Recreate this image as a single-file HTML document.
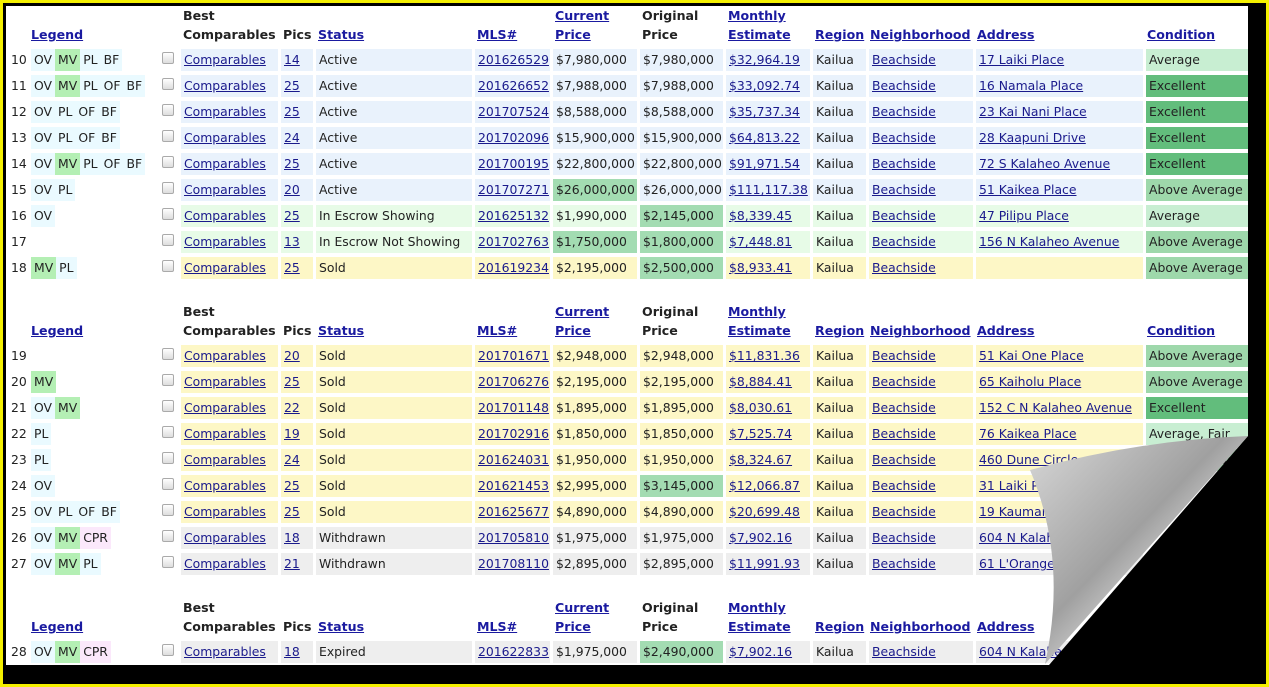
<!DOCTYPE html>
<html><head><meta charset="utf-8">
<style>
*{margin:0;padding:0;box-sizing:border-box}
body{width:1269px;height:687px;background:#f4f000;position:relative;overflow:hidden;font-family:"DejaVu Sans","Liberation Sans",sans-serif;font-size:12.4px;color:#222}
#frame{position:absolute;left:3px;top:3px;width:1263px;height:681px;background:#000}
#page{position:absolute;left:6px;top:6px;width:1242px;height:659px;background:#fff;overflow:hidden}
.c{position:absolute;height:22px;line-height:22px;padding-left:3px;white-space:nowrap;overflow:hidden}
.h{position:absolute;font-weight:bold;line-height:19px;white-space:nowrap;font-size:12.6px}
a,.lk{color:#1a1a8c;text-decoration:underline}
.hl{color:#1a1aa0}
.tok{display:inline-block;padding:0 3px;background:#eafaff}
.mv{background:#b4efb4}.cpr{background:#fbe8fb}
.cb{position:absolute;width:12px;height:12px;border:1px solid #aaa;border-radius:2px;background:linear-gradient(#fff,#ddd)}
</style></head><body>
<div id="frame"></div>
<div id="page"></div>
<svg width="1269" height="687" style="position:absolute;left:0;top:0">
<defs><linearGradient id="g" x1="0" y1="0" x2="1" y2="1"><stop offset="0" stop-color="#d8d8d8"/><stop offset="0.45" stop-color="#a0a0a0"/><stop offset="0.7" stop-color="#e8e8e8"/><stop offset="1" stop-color="#9a9a9a"/></linearGradient></defs>
<path d="M1248,436 L1248,680 L1036,680 Z" fill="#000"/>
<path d="M1030,470 Q1140,440 1248,436 L1045,664 Q1068,560 1030,470 Z" fill="url(#g)"/>
</svg>
<script>
const legends=[["OV","MV","PL","BF"],["OV","MV","PL","OF","BF"],["OV","PL","OF","BF"],["OV","PL","OF","BF"],["OV","MV","PL","OF","BF"],["OV","PL"],["OV"],[],["MV","PL"],
[],["MV"],["OV","MV"],["PL"],["PL"],["OV"],["OV","PL","OF","BF"],["OV","MV","CPR"],["OV","MV","PL"],["OV","MV","CPR"]];
const nums=[10,11,12,13,14,15,16,17,18,19,20,21,22,23,24,25,26,27,28];
const pics=[14,25,25,24,25,20,25,13,25,20,25,22,19,24,25,25,18,21,18];
const statuses=["Active","Active","Active","Active","Active","Active","In Escrow Showing","In Escrow Not Showing","Sold","Sold","Sold","Sold","Sold","Sold","Sold","Sold","Withdrawn","Withdrawn","Expired"];
const mls=["201626529","201626652","201707524","201702096","201700195","201707271","201625132","201702763","201619234","201701671","201706276","201701148","201702916","201624031","201621453","201625677","201705810","201708110","201622833"];
const current=["$7,980,000","$7,988,000","$8,588,000","$15,900,000","$22,800,000","$26,000,000","$1,990,000","$1,750,000","$2,195,000","$2,948,000","$2,195,000","$1,895,000","$1,850,000","$1,950,000","$2,995,000","$4,890,000","$1,975,000","$2,895,000","$1,975,000"];
const original=["$7,980,000","$7,988,000","$8,588,000","$15,900,000","$22,800,000","$26,000,000","$2,145,000","$1,800,000","$2,500,000","$2,948,000","$2,195,000","$1,895,000","$1,850,000","$1,950,000","$3,145,000","$4,890,000","$1,975,000","$2,895,000","$2,490,000"];
const curHl=[0,0,0,0,0,1,0,1,0,0,0,0,0,0,0,0,0,0,0];
const origHl=[0,0,0,0,0,0,1,1,1,0,0,0,0,0,1,0,0,0,1];
const monthly=["$32,964.19","$33,092.74","$35,737.34","$64,813.22","$91,971.54","$111,117.38","$8,339.45","$7,448.81","$8,933.41","$11,831.36","$8,884.41","$8,030.61","$7,525.74","$8,324.67","$12,066.87","$20,699.48","$7,902.16","$11,991.93","$7,902.16"];
const address=["17 Laiki Place","16 Namala Place","23 Kai Nani Place","28 Kaapuni Drive","72 S Kalaheo Avenue","51 Kaikea Place","47 Pilipu Place","156 N Kalaheo Avenue","","51 Kai One Place","65 Kaiholu Place","152 C N Kalaheo Avenue","76 Kaikea Place","460 Dune Circle","31 Laiki Place","19 Kaumana Place","604 N Kalaheo","61 L'Orange Place","604 N Kalaheo"];
const condition=["Average","Excellent","Excellent","Excellent","Excellent","Above Average","Average","Above Average","Above Average","Above Average","Above Average","Excellent","Average, Fair","Above Average","","","","",""];
const rowY=[48,74,100,126,152,178,204,230,256,344,370,396,422,448,474,500,526,552,640];
const headY=[6,302,598];
const P=document.getElementById('page');
function rowBg(s){if(s==="Active")return"#e9f2fc";if(s.indexOf("Escrow")>=0)return"#e7fbe7";if(s==="Sold")return"#fdf7c6";return"#eeeeee";}
function condBg(c){if(c==="Excellent")return"#62bd7c";if(c==="Above Average")return"#9ed8ab";if(c)return"#c8eed2";return"transparent";}
function cell(x,y,w,html,bg,name,inter){const d=document.createElement('div');d.className='c';d.style.left=(x-6)+'px';d.style.top=(y-6)+'px';d.style.width=w+'px';if(bg)d.style.background=bg;d.innerHTML=html;


P.appendChild(d);return d;}
function head(x,y,t,link,name){const d=document.createElement('div');d.className='h'+(link?' hl':'');d.style.left=(x-6)+'px';d.style.top=(y-6)+'px';d.innerHTML=t;


P.appendChild(d);}
headY.forEach((y,k)=>{
 head(31,y+19,'<u>Legend</u>',1,'legend-header');
 head(183,y,'Best',0,'best-header');
 head(183,y+19,'Comparables',0,'comparables-header');
 head(283,y+19,'Pics',0,'pics-header');
 head(318,y+19,'<u>Status</u>',1,'status-header');
 head(477,y+19,'<u>MLS#</u>',1,'mls-header');
 head(555,y,'<u>Current</u>',1,'current-price-header');
 head(555,y+19,'<u>Price</u>',1,'current-price-header-2');
 head(642,y,'Original',0,'original-price-header');
 head(642,y+19,'Price',0,'original-price-header-2');
 head(728,y,'<u>Monthly</u>',1,'monthly-estimate-header');
 head(728,y+19,'<u>Estimate</u>',1,'monthly-estimate-header-2');
 head(815,y+19,'<u>Region</u>',1,'region-header');
 head(870,y+19,'<u>Neighborhood</u>',1,'neighborhood-header');
 head(977,y+19,'<u>Address</u>',1,'address-header');
 head(1147,y+19,'<u>Condition</u>',1,'condition-header');
});
nums.forEach((n,i)=>{
 const y=rowY[i]+1,s=statuses[i],bg=rowBg(s);
 cell(8,y,24,String(n),null,'row-number');
 const toks=legends[i].map(t=>'<span class="tok'+(t==='MV'?' mv':t==='CPR'?' cpr':'')+'">'+t+'</span>').join('');
 const lg=cell(28,y,140,toks,null,'legend-tags');lg.style.paddingLeft='3px';
 const cb=document.createElement('div');cb.className='cb';cb.style.left=(162-6)+'px';cb.style.top=(y+3-6)+'px';
 
 
 P.appendChild(cb);
 cell(181,y,97,'<span class="lk">Comparables</span>',bg,'comparables-link',1);
 cell(281,y,32,'<span class="lk">'+pics[i]+'</span>',bg,'pics-link',1);
 cell(316,y,156,s,bg,'status');
 cell(475,y,75,'<span class="lk">'+mls[i]+'</span>',bg,'mls-link',1);
 cell(553,y,84,current[i],curHl[i]?'#a3dcb2':bg,'current-price');
 cell(640,y,83,original[i],origHl[i]?'#a3dcb2':bg,'original-price');
 cell(726,y,84,'<span class="lk">'+monthly[i]+'</span>',bg,'monthly-estimate-link',1);
 cell(813,y,53,'Kailua',bg,'region');
 cell(869,y,104,'<span class="lk">Beachside</span>',bg,'neighborhood-link',1);
 cell(976,y,167,address[i]?'<span class="lk">'+address[i]+'</span>':'',bg,'address-link',1);
 cell(1146,y,102,condition[i],condBg(condition[i]),'condition');
});
</script>
</body></html>
